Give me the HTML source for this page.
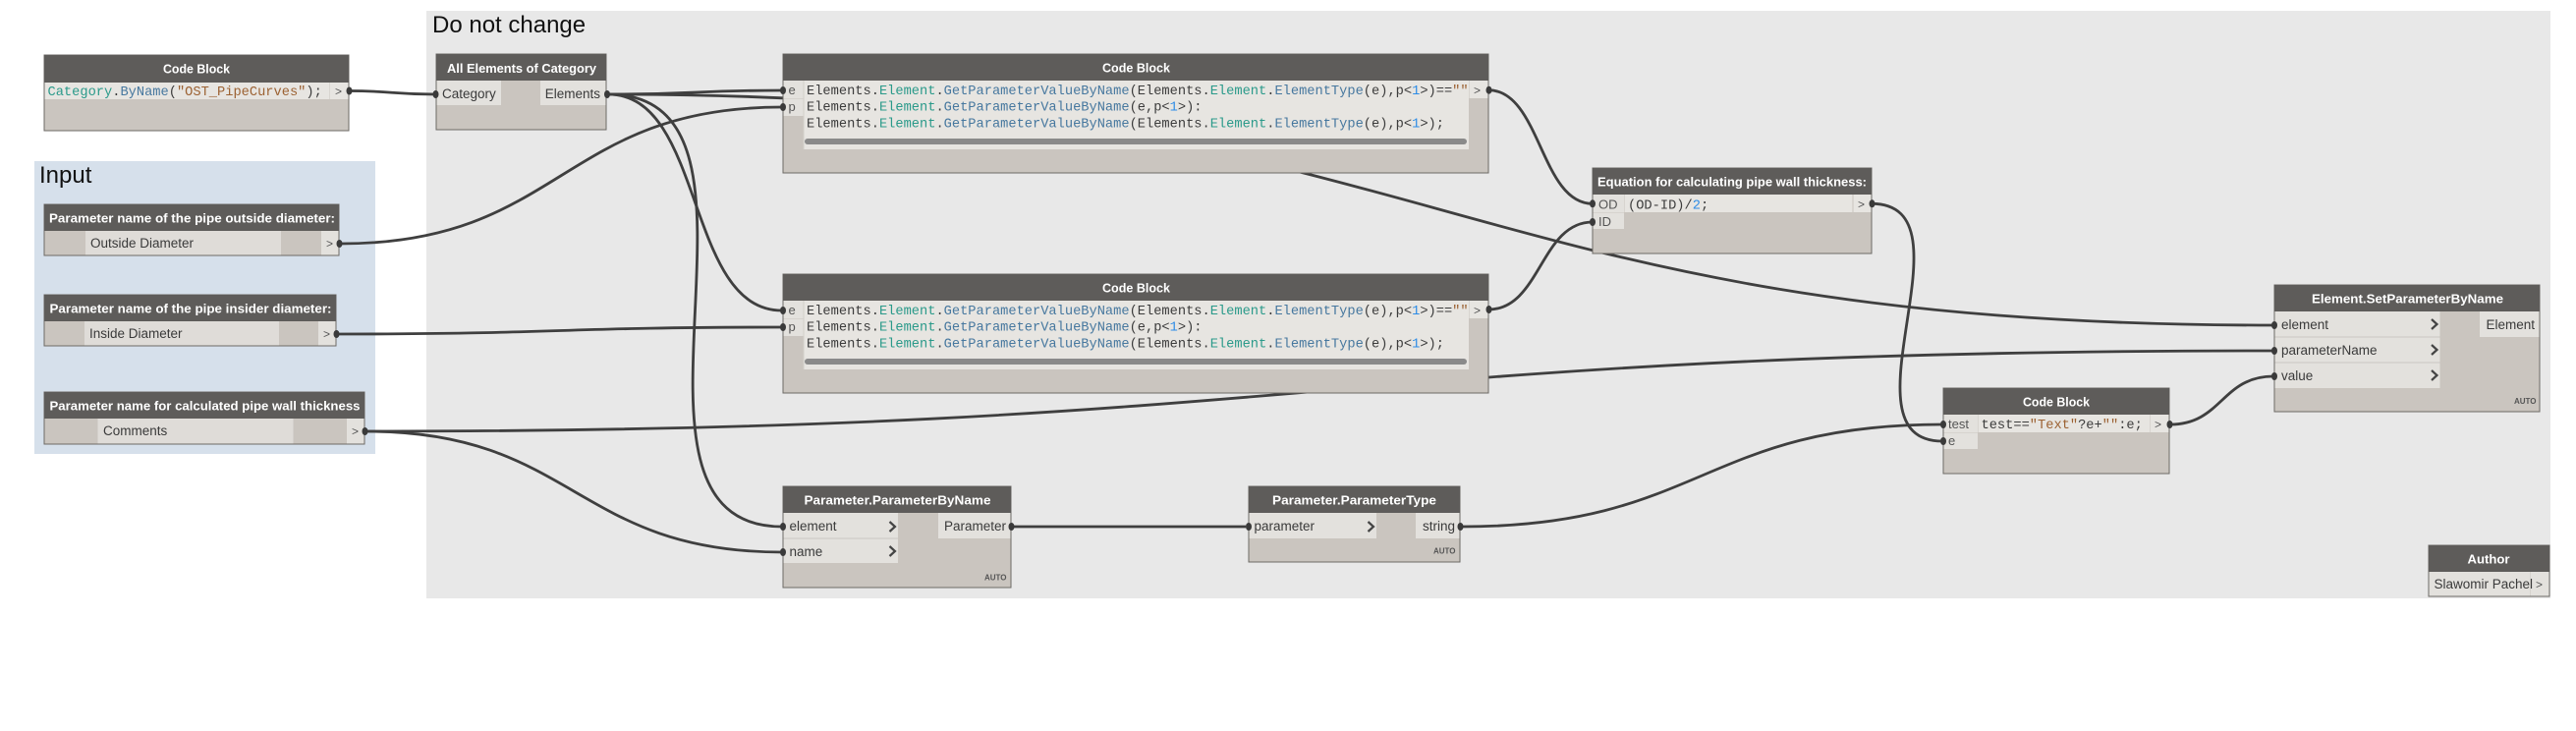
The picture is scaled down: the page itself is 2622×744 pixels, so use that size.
<!DOCTYPE html>
<html>
<head>
<meta charset="utf-8">
<style>
  html,body{margin:0;padding:0;background:#ffffff;}
  body{width:2622px;height:744px;overflow:hidden;}
  svg{display:block;}
  .hd{font-family:"Liberation Sans",sans-serif;font-weight:bold;font-size:13px;fill:#ffffff;}
  .lb{font-family:"Liberation Sans",sans-serif;font-size:13.5px;fill:#3a3a3a;}
  .pl{font-family:"Liberation Sans",sans-serif;font-size:13px;fill:#555555;}
  .cd{font-family:"Liberation Mono",monospace;font-size:13.7px;fill:#3c3c3c;}
  .au{font-family:"Liberation Sans",sans-serif;font-weight:bold;font-size:8px;fill:#555555;}
  .gt{font-family:"Liberation Sans",sans-serif;font-size:24px;fill:#111111;}
  .ar{font-family:"Liberation Sans",sans-serif;font-size:12px;fill:#555555;}
  .w{fill:none;stroke:#3f3f3f;stroke-width:2.8;}
  .t{fill:#2b9a8a;} .b{fill:#47789f;} .n{fill:#2d8ce6;} .s{fill:#9c6233;}
</style>
</head>
<body>
<svg width="2622" height="744" viewBox="0 0 2622 744" xmlns="http://www.w3.org/2000/svg">
  <defs>
    <clipPath id="c1"><rect x="818" y="82" width="677" height="70"/></clipPath>
    <clipPath id="c2"><rect x="818" y="306" width="677" height="70"/></clipPath>
  </defs>

  <!-- Groups -->
  <rect x="434" y="11" width="2162" height="598" fill="#e8e8e8"/>
  <text class="gt" x="440" y="33">Do not change</text>
  <rect x="35" y="164" width="347" height="298" fill="#d6e0eb"/>
  <text class="gt" x="40" y="186">Input</text>

  <!-- Wires -->
  <path class="w" d="M355,92.5 C399,92.5 399,96 443,96"/>
  <path class="w" d="M619,96 C707.5,96 707.5,92 796,92"/>
  <path class="w" d="M619,96 C1466.5,96 1466.5,331 2314,331"/>
  <path class="w" d="M619,96 C718,96 697,316 796,316"/>
  <path class="w" d="M619,96 C817,96 598,536 796,536"/>
  <path class="w" d="M347,248 C571.5,248 571.5,109 796,109"/>
  <path class="w" d="M344,340 C570,340 570,333 796,333"/>
  <path class="w" d="M373,439 C1343.5,439 1343.5,357 2314,357"/>
  <path class="w" d="M373,439 C585,439 585,562 797,562"/>
  <path class="w" d="M1515,91.7 C1568,91.7 1568,207.3 1621,207.3"/>
  <path class="w" d="M1515,315 C1568,315 1568,226 1621,226"/>
  <path class="w" d="M1905,207.3 C2014,207.3 1868,449 1977,449"/>
  <path class="w" d="M1030,536 L1268,536"/>
  <path class="w" d="M1488,536 C1732,536 1733,432 1977,432"/>
  <path class="w" d="M2209,432 C2261.5,432 2261.5,383 2314,383"/>

  <!-- CB0: Code Block Category -->
  <rect x="45" y="56" width="310" height="77" fill="#cac5bf" stroke="#6d6a66" stroke-width="1"/>
  <rect x="45" y="56" width="310" height="28" fill="#5e5c5a"/>
  <text class="hd" x="166" y="74.5" textLength="68" lengthAdjust="spacingAndGlyphs">Code Block</text>
  <rect x="45.5" y="84" width="290" height="17" fill="#e7e5e1"/>
  <rect x="336" y="84" width="18.5" height="17" fill="#e7e5e1"/>
  <text class="ar" x="341" y="97">&gt;</text>
  <text class="cd" x="48.5" y="97"><tspan class="t">Category</tspan>.<tspan class="b">ByName</tspan>(<tspan class="s">"OST_PipeCurves"</tspan>);</text>

  <!-- All Elements of Category -->
  <rect x="444" y="55" width="173" height="77" fill="#cac5bf" stroke="#6d6a66" stroke-width="1"/>
  <rect x="444" y="55" width="173" height="27" fill="#5e5c5a"/>
  <text class="hd" x="455" y="74" textLength="152" lengthAdjust="spacingAndGlyphs">All Elements of Category</text>
  <rect x="444.5" y="82" width="65.5" height="25" fill="#e3e1dd"/>
  <rect x="550" y="82" width="66.5" height="25" fill="#e3e1dd"/>
  <text class="lb" x="450" y="100">Category</text>
  <text class="lb" x="611" y="100" text-anchor="end">Elements</text>

  <!-- CB1 -->
  <rect x="797" y="55" width="718" height="121" fill="#cac5bf" stroke="#6d6a66" stroke-width="1"/>
  <rect x="797" y="55" width="718" height="27" fill="#5e5c5a"/>
  <text class="hd" x="1122" y="73.5" textLength="69" lengthAdjust="spacingAndGlyphs">Code Block</text>
  <rect x="797.5" y="82" width="20.5" height="18" fill="#e3e1dd"/>
  <rect x="797.5" y="100.5" width="20.5" height="17.5" fill="#e3e1dd"/>
  <text class="pl" x="802.5" y="96">e</text>
  <text class="pl" x="802.5" y="113">p</text>
  <rect x="818" y="82" width="677" height="70" fill="#e7e5e1"/>
  <line x1="818" y1="82" x2="818" y2="152" stroke="#d2cec9" stroke-width="1"/>
  <rect x="1495.5" y="82" width="19" height="18" fill="#e7e5e1"/>
  <text class="ar" x="1500" y="96">&gt;</text>
  <g clip-path="url(#c1)">
    <text class="cd" x="821" y="96">Elements.<tspan class="t">Element</tspan>.<tspan class="b">GetParameterValueByName</tspan>(Elements.<tspan class="t">Element</tspan>.<tspan class="b">ElementType</tspan>(e),p&lt;<tspan class="n">1</tspan>&gt;)==<tspan class="s">""</tspan>?e:</text>
    <text class="cd" x="821" y="112.7">Elements.<tspan class="t">Element</tspan>.<tspan class="b">GetParameterValueByName</tspan>(e,p&lt;<tspan class="n">1</tspan>&gt;):</text>
    <text class="cd" x="821" y="129.4">Elements.<tspan class="t">Element</tspan>.<tspan class="b">GetParameterValueByName</tspan>(Elements.<tspan class="t">Element</tspan>.<tspan class="b">ElementType</tspan>(e),p&lt;<tspan class="n">1</tspan>&gt;);</text>
  </g>
  <rect x="819" y="141" width="674" height="6" rx="3" fill="#8a8a8a"/>

  <!-- CB2 -->
  <rect x="797" y="279" width="718" height="121" fill="#cac5bf" stroke="#6d6a66" stroke-width="1"/>
  <rect x="797" y="279" width="718" height="27" fill="#5e5c5a"/>
  <text class="hd" x="1122" y="297.5" textLength="69" lengthAdjust="spacingAndGlyphs">Code Block</text>
  <rect x="797.5" y="306" width="20.5" height="18" fill="#e3e1dd"/>
  <rect x="797.5" y="324.5" width="20.5" height="17.5" fill="#e3e1dd"/>
  <text class="pl" x="802.5" y="320">e</text>
  <text class="pl" x="802.5" y="337">p</text>
  <rect x="818" y="306" width="677" height="70" fill="#e7e5e1"/>
  <line x1="818" y1="306" x2="818" y2="376" stroke="#d2cec9" stroke-width="1"/>
  <rect x="1495.5" y="306" width="19" height="18" fill="#e7e5e1"/>
  <text class="ar" x="1500" y="320">&gt;</text>
  <g clip-path="url(#c2)">
    <text class="cd" x="821" y="320">Elements.<tspan class="t">Element</tspan>.<tspan class="b">GetParameterValueByName</tspan>(Elements.<tspan class="t">Element</tspan>.<tspan class="b">ElementType</tspan>(e),p&lt;<tspan class="n">1</tspan>&gt;)==<tspan class="s">""</tspan>?e:</text>
    <text class="cd" x="821" y="336.7">Elements.<tspan class="t">Element</tspan>.<tspan class="b">GetParameterValueByName</tspan>(e,p&lt;<tspan class="n">1</tspan>&gt;):</text>
    <text class="cd" x="821" y="353.4">Elements.<tspan class="t">Element</tspan>.<tspan class="b">GetParameterValueByName</tspan>(Elements.<tspan class="t">Element</tspan>.<tspan class="b">ElementType</tspan>(e),p&lt;<tspan class="n">1</tspan>&gt;);</text>
  </g>
  <rect x="819" y="365" width="674" height="6" rx="3" fill="#8a8a8a"/>

  <!-- Equation -->
  <rect x="1621" y="171" width="284" height="87" fill="#cac5bf" stroke="#6d6a66" stroke-width="1"/>
  <rect x="1621" y="171" width="284" height="27" fill="#5e5c5a"/>
  <text class="hd" x="1626" y="189.5" textLength="274" lengthAdjust="spacingAndGlyphs">Equation for calculating pipe wall thickness:</text>
  <rect x="1621.5" y="198" width="31.5" height="18" fill="#e3e1dd"/>
  <rect x="1621.5" y="216.5" width="31.5" height="16.5" fill="#e3e1dd"/>
  <text class="pl" x="1627" y="212.5">OD</text>
  <text class="pl" x="1627" y="230">ID</text>
  <rect x="1653.5" y="198" width="232" height="18" fill="#e7e5e1"/>
  <rect x="1886.5" y="198" width="18" height="18" fill="#e7e5e1"/>
  <text class="ar" x="1891" y="212">&gt;</text>
  <text class="cd" x="1657" y="212.5">(OD-ID)/<tspan class="n">2</tspan>;</text>

  <!-- CB3 -->
  <rect x="1978" y="395" width="230" height="87" fill="#cac5bf" stroke="#6d6a66" stroke-width="1"/>
  <rect x="1978" y="395" width="230" height="27" fill="#5e5c5a"/>
  <text class="hd" x="2059" y="413.5" textLength="68" lengthAdjust="spacingAndGlyphs">Code Block</text>
  <rect x="1978.5" y="422" width="34.5" height="18" fill="#e3e1dd"/>
  <rect x="1978.5" y="440.5" width="34.5" height="16.5" fill="#e3e1dd"/>
  <text class="pl" x="1983" y="436">test</text>
  <text class="pl" x="1983" y="453">e</text>
  <rect x="2013.5" y="422" width="174.5" height="18" fill="#e7e5e1"/>
  <rect x="2188.5" y="422" width="19" height="18" fill="#e7e5e1"/>
  <text class="ar" x="2193" y="436">&gt;</text>
  <text class="cd" x="2016.5" y="436">test==<tspan class="s">"Text"</tspan>?e+<tspan class="s">""</tspan>:e;</text>

  <!-- Element.SetParameterByName -->
  <rect x="2315" y="290" width="270" height="129" fill="#cac5bf" stroke="#6d6a66" stroke-width="1"/>
  <rect x="2315" y="290" width="270" height="27" fill="#5e5c5a"/>
  <text class="hd" x="2353" y="308.5" textLength="195" lengthAdjust="spacingAndGlyphs">Element.SetParameterByName</text>
  <rect x="2315.5" y="317" width="168" height="78" fill="#e3e1dd"/>
  <line x1="2315.5" y1="343" x2="2483.5" y2="343" stroke="#cbc7c2" stroke-width="1"/>
  <line x1="2315.5" y1="369" x2="2483.5" y2="369" stroke="#cbc7c2" stroke-width="1"/>
  <rect x="2524" y="317" width="60.5" height="26" fill="#e3e1dd"/>
  <text class="lb" x="2322" y="335">element</text>
  <text class="lb" x="2322" y="361">parameterName</text>
  <text class="lb" x="2322" y="387">value</text>
  <text class="lb" x="2580" y="335" text-anchor="end">Element</text>
  <polyline points="2475,325 2480.5,330 2475,335" fill="none" stroke="#444" stroke-width="2.2"/>
  <polyline points="2475,351 2480.5,356 2475,361" fill="none" stroke="#444" stroke-width="2.2"/>
  <polyline points="2475,377 2480.5,382 2475,387" fill="none" stroke="#444" stroke-width="2.2"/>
  <text class="au" x="2581.5" y="411" text-anchor="end">AUTO</text>

  <!-- Parameter.ParameterByName -->
  <rect x="797" y="495" width="232" height="103" fill="#cac5bf" stroke="#6d6a66" stroke-width="1"/>
  <rect x="797" y="495" width="232" height="27" fill="#5e5c5a"/>
  <text class="hd" x="818.5" y="513.5" textLength="190" lengthAdjust="spacingAndGlyphs">Parameter.ParameterByName</text>
  <rect x="797.5" y="522" width="116.5" height="51" fill="#e3e1dd"/>
  <line x1="797.5" y1="548" x2="914" y2="548" stroke="#cbc7c2" stroke-width="1"/>
  <rect x="955" y="522" width="73.5" height="26" fill="#e3e1dd"/>
  <text class="lb" x="803.5" y="540">element</text>
  <text class="lb" x="803.5" y="566">name</text>
  <text class="lb" x="1024" y="540" text-anchor="end">Parameter</text>
  <polyline points="905.5,531 911,536 905.5,541" fill="none" stroke="#444" stroke-width="2.2"/>
  <polyline points="905.5,556 911,561 905.5,566" fill="none" stroke="#444" stroke-width="2.2"/>
  <text class="au" x="1024.5" y="590.5" text-anchor="end">AUTO</text>

  <!-- Parameter.ParameterType -->
  <rect x="1271" y="495" width="215" height="77" fill="#cac5bf" stroke="#6d6a66" stroke-width="1"/>
  <rect x="1271" y="495" width="215" height="27" fill="#5e5c5a"/>
  <text class="hd" x="1295" y="513.5" textLength="167" lengthAdjust="spacingAndGlyphs">Parameter.ParameterType</text>
  <rect x="1271.5" y="522" width="129.5" height="26" fill="#e3e1dd"/>
  <rect x="1441" y="522" width="44.5" height="26" fill="#e3e1dd"/>
  <text class="lb" x="1276.5" y="540">parameter</text>
  <text class="lb" x="1481" y="540" text-anchor="end">string</text>
  <polyline points="1392.5,531 1398,536 1392.5,541" fill="none" stroke="#444" stroke-width="2.2"/>
  <text class="au" x="1481.5" y="563.5" text-anchor="end">AUTO</text>

  <!-- Outside Diameter -->
  <rect x="45" y="208" width="300" height="52" fill="#cac5bf" stroke="#6d6a66" stroke-width="1"/>
  <rect x="45" y="208" width="300" height="27" fill="#5e5c5a"/>
  <text class="hd" x="50" y="226.5" textLength="291" lengthAdjust="spacingAndGlyphs">Parameter name of the pipe outside diameter:</text>
  <rect x="87" y="235" width="199" height="24.5" fill="#dfdcd8"/>
  <rect x="327" y="235" width="17.5" height="24.5" fill="#e3e1dd"/>
  <text class="lb" x="92" y="252" font-size="13">Outside Diameter</text>
  <text class="ar" x="332" y="252">&gt;</text>

  <!-- Inside Diameter -->
  <rect x="45" y="300" width="297" height="52" fill="#cac5bf" stroke="#6d6a66" stroke-width="1"/>
  <rect x="45" y="300" width="297" height="27" fill="#5e5c5a"/>
  <text class="hd" x="50.5" y="318.5" textLength="287" lengthAdjust="spacingAndGlyphs">Parameter name of the pipe insider diameter:</text>
  <rect x="86" y="327" width="198" height="24.5" fill="#dfdcd8"/>
  <rect x="324" y="327" width="17.5" height="24.5" fill="#e3e1dd"/>
  <text class="lb" x="91" y="344" font-size="13">Inside Diameter</text>
  <text class="ar" x="329" y="344">&gt;</text>

  <!-- Comments -->
  <rect x="45" y="399" width="326" height="53" fill="#cac5bf" stroke="#6d6a66" stroke-width="1"/>
  <rect x="45" y="399" width="326" height="27" fill="#5e5c5a"/>
  <text class="hd" x="50.5" y="417.5" textLength="316" lengthAdjust="spacingAndGlyphs">Parameter name for calculated pipe wall thickness</text>
  <rect x="99.5" y="426" width="199" height="25.5" fill="#dfdcd8"/>
  <rect x="353" y="426" width="17.5" height="25.5" fill="#e3e1dd"/>
  <text class="lb" x="105" y="443" font-size="13">Comments</text>
  <text class="ar" x="358" y="443">&gt;</text>

  <!-- Author -->
  <rect x="2472" y="555" width="123" height="52" fill="#cac5bf" stroke="#6d6a66" stroke-width="1"/>
  <rect x="2472" y="555" width="123" height="27" fill="#5e5c5a"/>
  <text class="hd" x="2511.5" y="573.5" textLength="43" lengthAdjust="spacingAndGlyphs">Author</text>
  <rect x="2472.5" y="582" width="102.5" height="24.5" fill="#e3e1dd"/>
  <rect x="2575.5" y="582" width="19" height="24.5" fill="#e3e1dd"/>
  <text class="lb" x="2477.5" y="599" font-size="12.5">Slawomir Pachel</text>
  <text class="ar" x="2581" y="599">&gt;</text>

  <!-- Port nubs -->
  <g fill="#3a3a3a">
    <ellipse cx="355.5" cy="92.5" rx="3" ry="4"/>
    <ellipse cx="443.5" cy="96" rx="3" ry="4"/>
    <ellipse cx="618" cy="96" rx="3" ry="4"/>
    <ellipse cx="797" cy="92" rx="3" ry="4"/>
    <ellipse cx="797" cy="109" rx="3" ry="4"/>
    <ellipse cx="797" cy="316" rx="3" ry="4"/>
    <ellipse cx="797" cy="333" rx="3" ry="4"/>
    <ellipse cx="797" cy="536" rx="3" ry="4"/>
    <ellipse cx="797" cy="562" rx="3" ry="4"/>
    <ellipse cx="345.5" cy="248" rx="3" ry="4"/>
    <ellipse cx="342.5" cy="340" rx="3" ry="4"/>
    <ellipse cx="371.5" cy="439" rx="3" ry="4"/>
    <ellipse cx="1515.5" cy="91.7" rx="3" ry="4"/>
    <ellipse cx="1515.5" cy="315" rx="3" ry="4"/>
    <ellipse cx="1621" cy="207.3" rx="3" ry="4"/>
    <ellipse cx="1621" cy="226" rx="3" ry="4"/>
    <ellipse cx="1905.5" cy="207.3" rx="3" ry="4"/>
    <ellipse cx="1978" cy="432" rx="3" ry="4"/>
    <ellipse cx="1978" cy="449" rx="3" ry="4"/>
    <ellipse cx="2208.5" cy="432" rx="3" ry="4"/>
    <ellipse cx="2315" cy="331" rx="3" ry="4"/>
    <ellipse cx="2315" cy="357" rx="3" ry="4"/>
    <ellipse cx="2315" cy="383" rx="3" ry="4"/>
    <ellipse cx="1029.5" cy="536" rx="3" ry="4"/>
    <ellipse cx="1271" cy="536" rx="3" ry="4"/>
    <ellipse cx="1486.5" cy="536" rx="3" ry="4"/>
  </g>
</svg>
</body>
</html>
